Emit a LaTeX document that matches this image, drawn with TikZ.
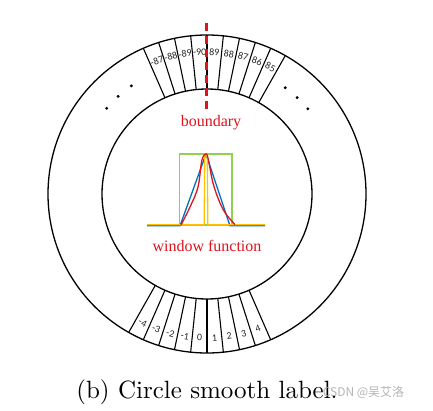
\documentclass[tikz,border=0pt]{standalone}
\usepackage{fontspec}
\setmainfont{Latin Modern Roman}
\newfontfamily\capfont[Extension=.otf]{lmroman10-regular}
\newfontfamily\lblfont{Carlito}
\newfontfamily\serfont{Liberation Serif}
\newfontfamily\cjkfont{Noto Sans CJK SC}
\definecolor{myred}{RGB}{220,20,30}
\definecolor{mygreen}{RGB}{146,208,80}
\definecolor{myblue}{RGB}{0,112,192}
\definecolor{myyellow}{RGB}{255,192,0}
\tikzset{
  ring/.style={line width=1.3pt, black},
  divider/.style={line width=1.1pt, black},
  seclabel/.style={font=\lblfont\fontsize{10}{10}\selectfont, text=black!85, inner sep=0pt},
  redlabel/.style={font=\serfont\fontsize{16}{16}\selectfont, text=myred, inner sep=0pt},
  curve/.style={line width=1.3pt, line join=round},
}
\begin{document}
\begin{tikzpicture}[x=1pt,y=1pt]
\useasboundingbox (0,0) rectangle (433,-410);
\begin{scope}[shift={(207,-194)}]
  \def\rin{105}
  \def\rout{159}
  \def\w{5.9}
  % circles
  \draw[ring] (0,0) circle[radius=\rout];
  \draw[ring] (0,0) circle[radius=\rin];
  % top dividers
  \foreach \k in {-5,...,4} {
    \draw[divider] ({90+\k*\w}:\rin) -- ({90+\k*\w}:\rout);
  }
  % bottom dividers
  \foreach \k in {-5,...,4} {
    \draw[divider] ({270+\k*\w}:\rin) -- ({270+\k*\w}:\rout);
  }
  % top labels
  \foreach \lab [count=\i from 0] in {-90,-89,-88,-87} {
    \pgfmathsetmacro{\ang}{90+(\i+0.5)*\w}
    \node[seclabel, rotate=\ang-90] (t\i) at (\ang:142) {\lab};
  }
  \foreach \lab [count=\i from 0] in {89,88,87,86,85} {
    \pgfmathsetmacro{\ang}{90-(\i+0.5)*\w}
    \node[seclabel, rotate=\ang-90] (r\i) at (\ang:142) {\lab};
  }
  % bottom labels
  \foreach \lab [count=\i from 0] in {0,-1,-2,-3,-4} {
    \pgfmathsetmacro{\ang}{270-(\i+0.5)*\w}
    \node[seclabel, rotate=\ang+90] (bl\i) at (\ang:144) {\lab};
  }
  \foreach \lab [count=\i from 0] in {1,2,3,4} {
    \pgfmathsetmacro{\ang}{270+(\i+0.5)*\w}
    \node[seclabel, rotate=\ang+90] (br\i) at (\ang:144) {\lab};
  }
  % dots
  \foreach \a in {125,132.3,139.5,40.2,46.9,53.6} {
    \fill (\a:132) circle[radius=1.6];
  }
  % boundary line
  \coordinate (bt) at (-0.5,171);
  \coordinate (bb) at (-0.5,82);
  \draw[myred, line width=2.2pt, dash pattern=on 8pt off 5pt] (bt) -- (bb);
  \node[redlabel] (boundary) at (4,71) {boundary};
  % window functions
  \draw[mygreen, line width=1.1pt] (-27.7,-31) rectangle (25,40);
  \draw[myblue, curve] (-60,-31.8) -- (-27,-31.8) -- (-1,40) -- (23,-31.8) -- (58,-31.8);
  \draw[myyellow, curve] (-60,-30.8) -- (-2.8,-30.8) -- (-2.3,37) -- (-1,40) -- (0.3,37) -- (0.8,-30.8) -- (58,-30.8);
  \draw[myred, curve] plot[smooth, tension=0.6] coordinates {(-26,-31) (-17,-13) (-9,7) (-5.3,33) (-1.5,40) (1,36) (6,11) (13,-9) (19.7,-21) (28,-30.5)};
  \node[redlabel] (wf) at (0,-52) {window function};
  % caption
  \node[font=\capfont\fontsize{25}{25}\selectfont, inner sep=0pt] (cap) at (0,-198) {(b) Circle smooth label.};
  \node[font=\cjkfont\fontsize{12}{12}\selectfont, text=black!35, opacity=0.85, inner sep=0pt] (wm) at (156.5,-198) {CSDN @吴艾洛};
\end{scope}
\end{tikzpicture}
\end{document}
